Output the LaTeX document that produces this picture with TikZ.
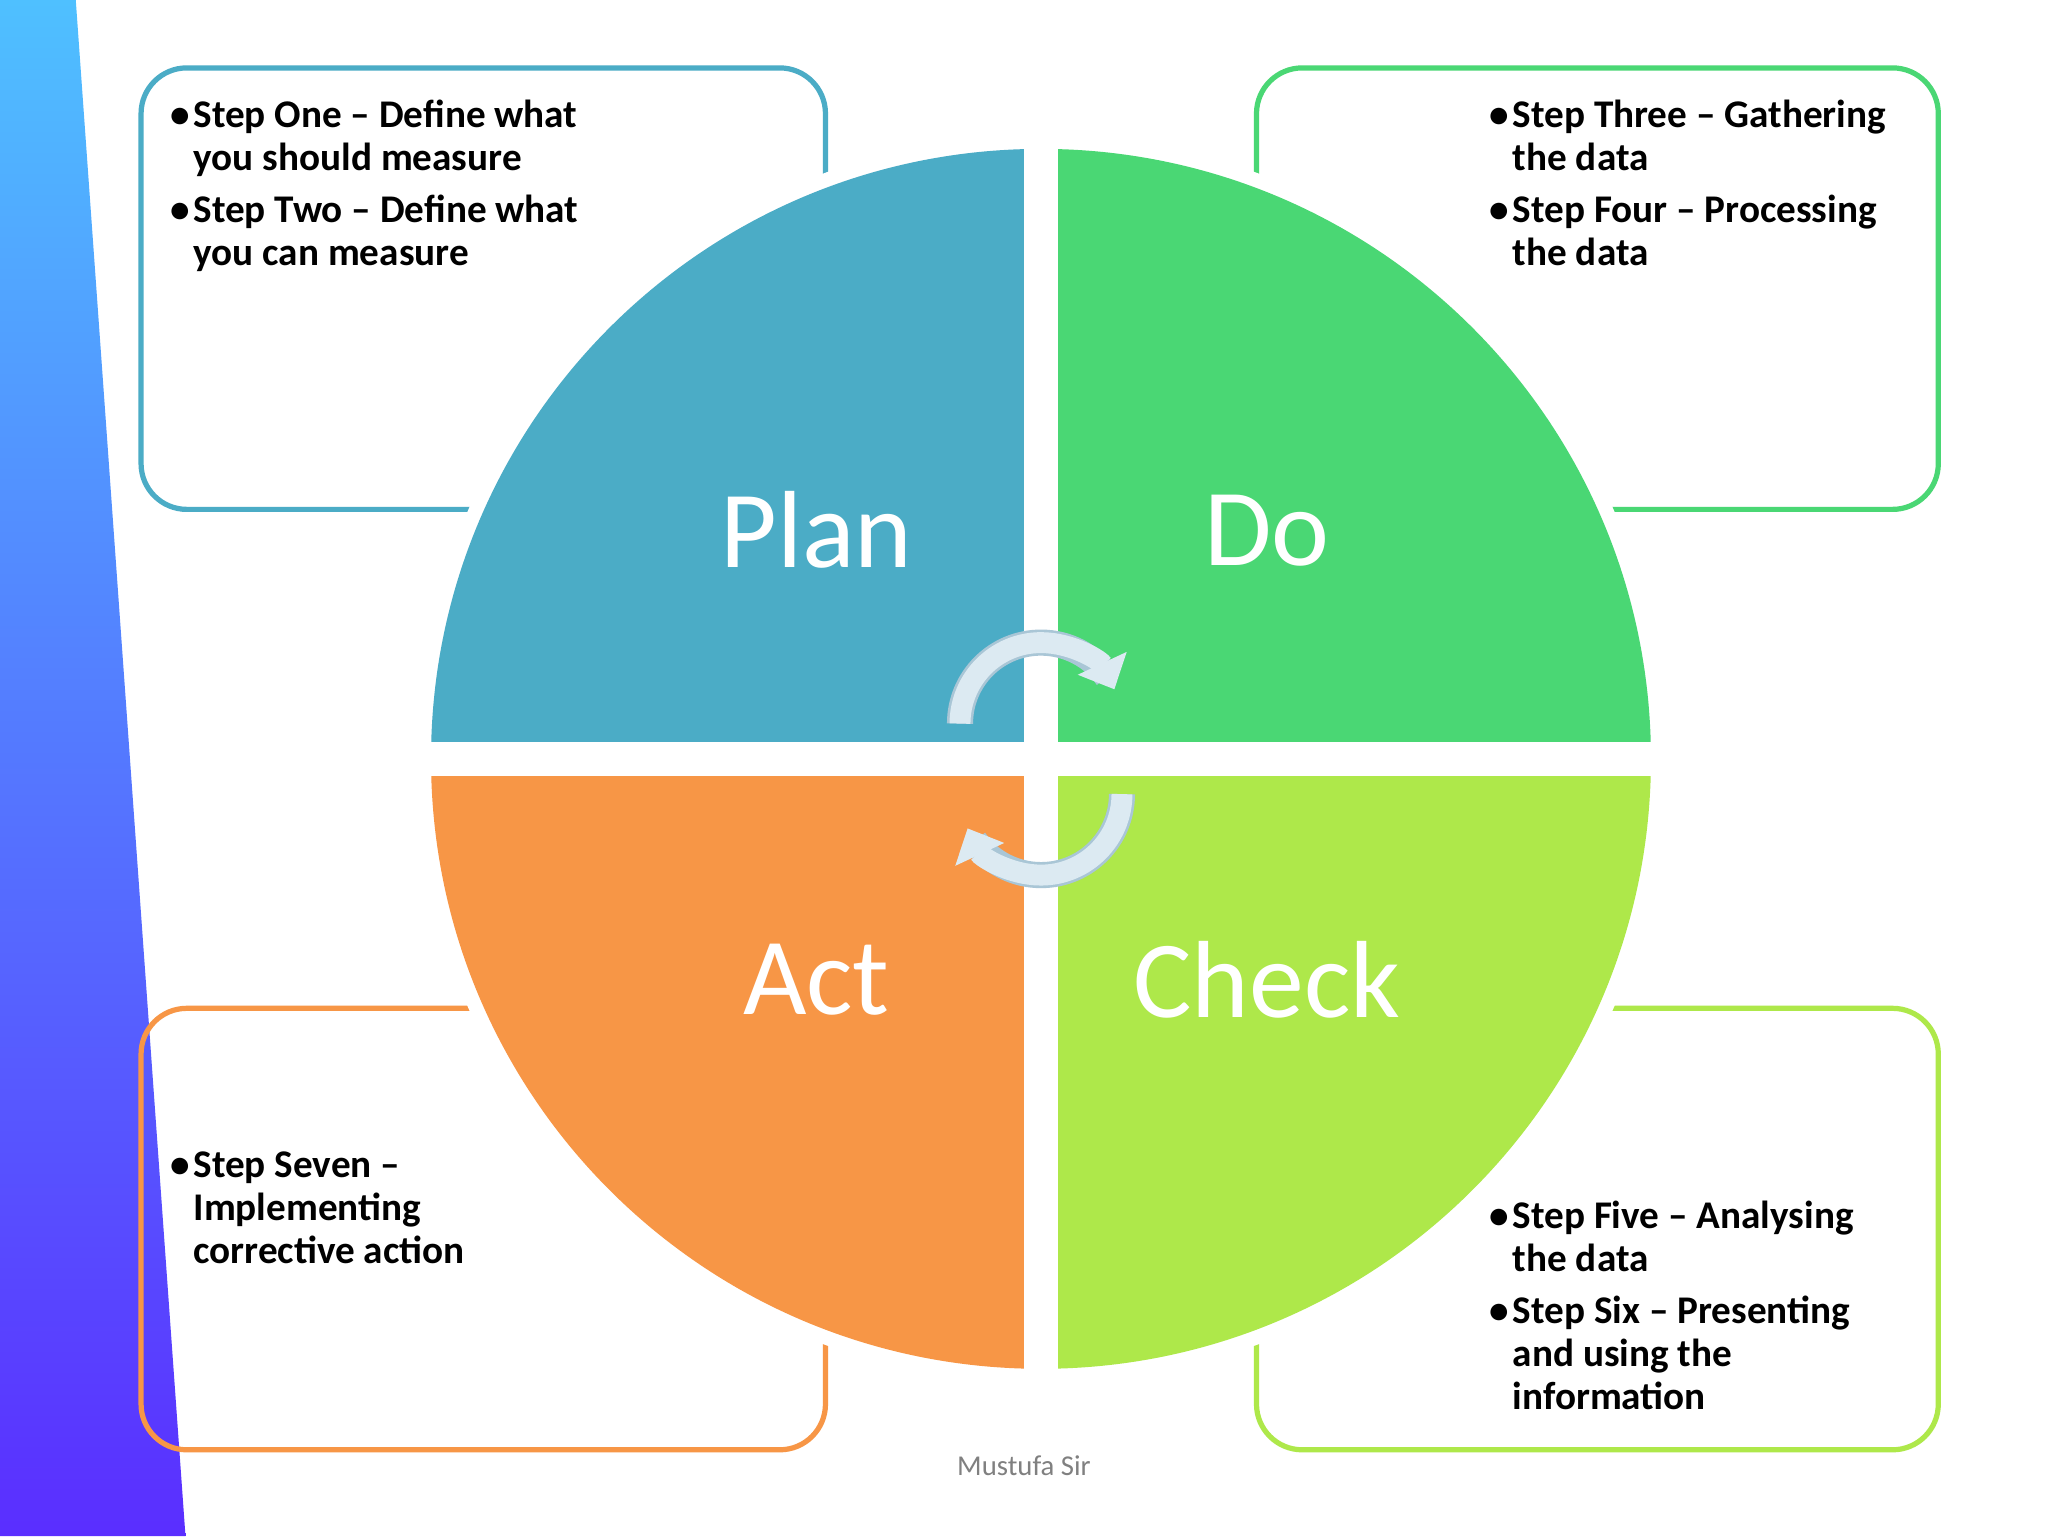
\documentclass[tikz,border=0pt]{standalone}
\usepackage{fontspec}
\setmainfont{Carlito}
\usetikzlibrary{arrows.meta}
\definecolor{planc}{HTML}{4BACC6}
\definecolor{doc}{HTML}{4AD774}
\definecolor{actc}{HTML}{F79646}
\definecolor{checkc}{HTML}{AEE84A}
\definecolor{arrc}{HTML}{DCEAF2}
\definecolor{arrb}{HTML}{A9C6D6}
\definecolor{bandtop}{HTML}{4FC0FF}
\definecolor{bandmid}{HTML}{2E8BFF}
\definecolor{bandbot}{HTML}{5A2EFF}
\newcommand{\bitem}[1]{\makebox[18pt][l]{•}\begin{tabular}[t]{@{}l@{}}#1\end{tabular}}
\tikzset{
  box/.style={line width=4pt, rounded corners=35pt},
  txt/.style={anchor=north west, inner sep=0pt, font=\fontsize{30}{33}\selectfont\bfseries, align=left},
  big/.style={text=white, font=\fontsize{84}{90}\selectfont},
  arr/.style={line width=16pt, arrc, -{Triangle[length=22pt,width=40pt]}}
}
\begin{document}
\begin{tikzpicture}[x=1pt,y=1pt]
\useasboundingbox (0,0) rectangle (1568,1176);
\fill[white] (0,0) rectangle (1568,1176);
\shade[top color=bandtop, middle color=bandmid, bottom color=bandbot] (0,1176) -- (58,1176) -- (142,0) -- (0,0) -- cycle;
% boxes
\draw[box, planc] (108,786) rectangle (632,1124);
\draw[box, doc] (962,786) rectangle (1484,1124);
\draw[box, actc] (108,66) rectangle (632,404);
\draw[box, checkc] (962,66) rectangle (1484,404);
\fill[white] (797,595) circle (478);
\begin{scope}
\clip (797,595) circle (467);
\fill[planc] (300,608) rectangle (784,1100);
\fill[doc] (810,608) rectangle (1300,1100);
\fill[actc] (300,90) rectangle (784,582);
\fill[checkc] (810,90) rectangle (1300,582);
\end{scope}
\node[big] (pl) at (625,770) {Plan};
\node[big] (do) at (970,770) {Do};
\node[big] (act) at (625,426) {Act};
\node[big] (chk) at (970,426) {Check};
% arrows
\draw[line width=20pt, arrb] (735,622) arc (180:35:62);
\draw[arr] (735,622) arc (180:25:62);
\draw[line width=20pt, arrb] (859,568) arc (0:-145:62);
\draw[arr] (859,568) arc (0:-155:62);
% texts
\node[txt] (t1a) at (130,1102) {\bitem{Step One – Define what\\you should measure}};
\node[txt] (t1b) at (130,1029) {\bitem{Step Two – Define what\\you can measure}};
\node[txt] (t2a) at (1140,1102) {\bitem{Step Three – Gathering\\the data}};
\node[txt] (t2b) at (1140,1029) {\bitem{Step Four – Processing\\the data}};
\node[txt] (t3) at (130,298) {\bitem{Step Seven –\\Implementing\\corrective action}};
\node[txt] (t4a) at (1140,259) {\bitem{Step Five – Analysing\\the data}};
\node[txt] (t4b) at (1140,186) {\bitem{Step Six – Presenting\\and using the\\information}};
\node[text=gray, font=\fontsize{22}{24}\selectfont] (ms) at (784,54) {Mustufa Sir};
\end{tikzpicture}
\end{document}
